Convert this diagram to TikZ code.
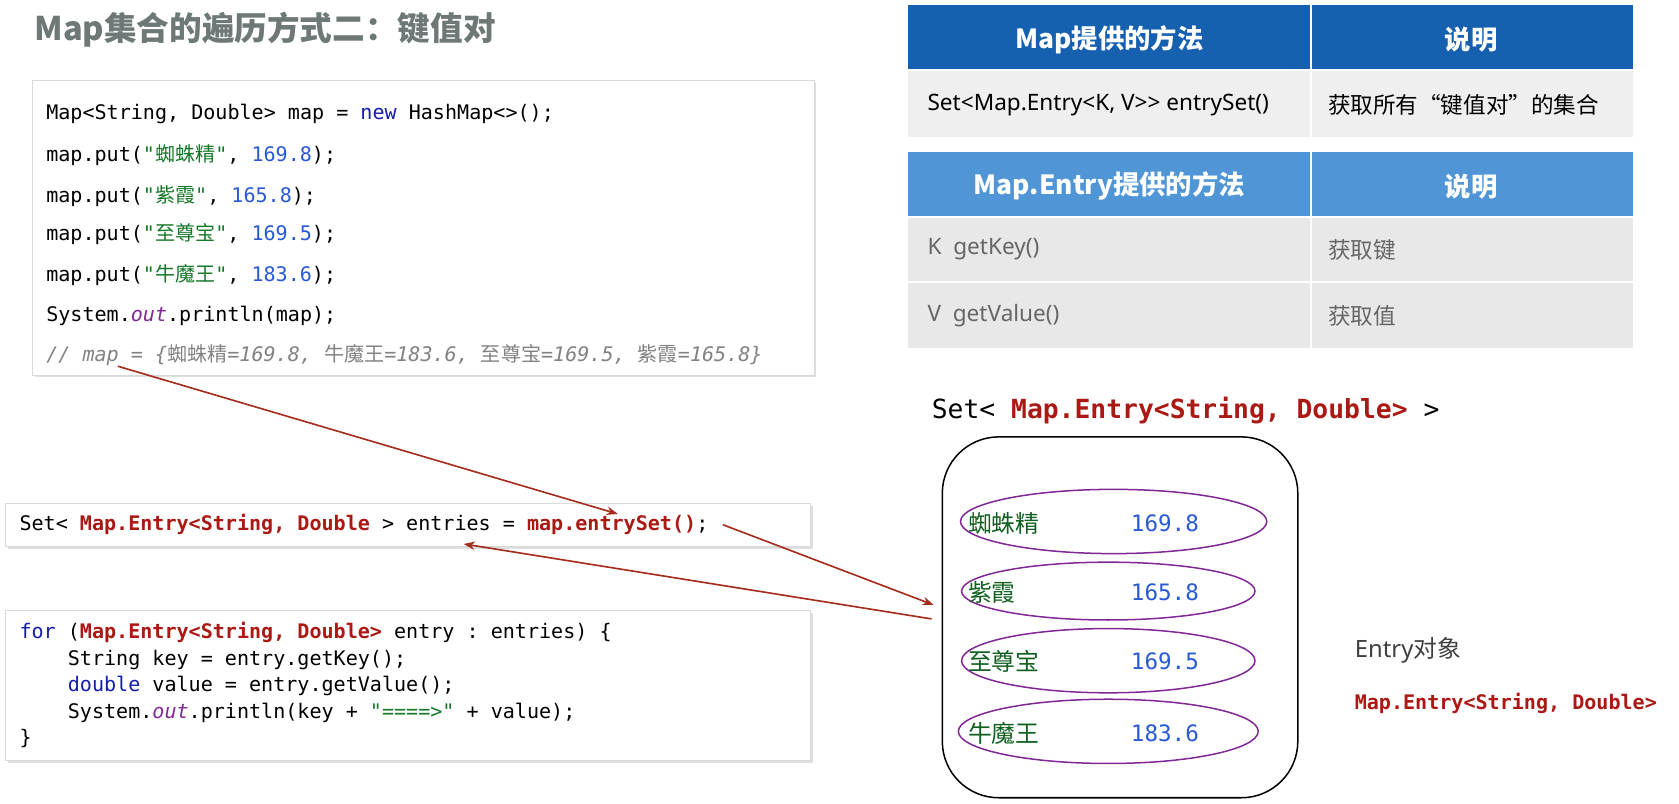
\documentclass[tikz,border=0pt]{standalone}
\usepackage{fontspec}
\setmonofont{DejaVu Sans Mono}
\setsansfont{Noto Sans}
\newfontfamily\zhf{Noto Sans CJK SC}
\newcommand{\zh}[1]{{\zhf #1}}
\usetikzlibrary{arrows.meta,shadows}
\definecolor{kw}{RGB}{20,30,170}
\definecolor{num}{RGB}{40,90,210}
\definecolor{str}{RGB}{20,120,40}
\definecolor{rb}{RGB}{170,25,20}
\definecolor{pur}{RGB}{130,40,150}
\definecolor{cmt}{RGB}{130,130,130}
\definecolor{hd1}{RGB}{22,96,176}
\definecolor{hd2}{RGB}{80,150,215}
\definecolor{rowg}{RGB}{232,232,232}
\definecolor{arr}{RGB}{165,45,30}
\definecolor{ttl}{RGB}{110,120,118}
\newcommand{\K}[1]{\textcolor{kw}{#1}}
\newcommand{\N}[1]{\textcolor{num}{#1}}
\newcommand{\St}[1]{\textcolor{str}{#1}}
\newcommand{\R}[1]{\textcolor{rb}{\bfseries #1}}
\newcommand{\Ou}{\textcolor{pur}{\itshape out}}
\begin{document}
\begin{tikzpicture}[x=0.03cm,y=-0.03cm,
  codebox/.style={draw=black!15,fill=white,drop shadow={opacity=0.25,shadow xshift=2pt,shadow yshift=-2pt}},
  code/.style={anchor=west,inner sep=0,font=\ttfamily\fontsize{16}{18}\selectfont},
  hdr/.style={anchor=center,text=white,font=\zhf\bfseries\fontsize{21}{23}\selectfont},
  cell/.style={anchor=west,inner sep=0,font=\sffamily\fontsize{18}{20}\selectfont},
  ell/.style={draw=pur,line width=1.2pt},
  ar/.style={draw=arr,line width=1.3pt,-{Stealth[length=9pt]}}]
\useasboundingbox (0,0) rectangle (1568,750);
\fill[white] (0,0) rectangle (1568,750);
\node[anchor=west,text=ttl,font=\zhf\bfseries\fontsize{26}{28}\selectfont] (title) at (28,28) {Map集合的遍历方式二：键值对};
% code box 1
\path[codebox] (30,75) rectangle (760,350);
\node[code] (c1) at (43,106) {Map<String, Double> map = \K{new} HashMap<>();};
\node[code] (c2) at (43,145) {map.put(\St{"\zh{蜘蛛精}"}, \N{169.8});};
\node[code] (c3) at (43,183) {map.put(\St{"\zh{紫霞}"}, \N{165.8});};
\node[code] (c4) at (43,219) {map.put(\St{"\zh{至尊宝}"}, \N{169.5});};
\node[code] (c5) at (43,257) {map.put(\St{"\zh{牛魔王}"}, \N{183.6});};
\node[code] (c6) at (43,295) {System.\Ou.println(map);};
\node[code,text=cmt] (c7) at (43,332) {\itshape // map = \{\zh{蜘蛛精}=169.8, \zh{牛魔王}=183.6, \zh{至尊宝}=169.5, \zh{紫霞}=165.8\}};
% table 1
\fill[hd1] (848,5) rectangle (1525,65);
\fill[rowg!70!white] (848,65) rectangle (1525,128);
\draw[white,line width=1.5pt] (1224,5) -- (1224,128) (848,65) -- (1525,65);
\node[hdr] (h1) at (1036,37) {Map提供的方法};
\node[hdr] (h2) at (1374,37) {说明};
\node[cell] (r1) at (866,98) {Set<Map.Entry<K, V{>}{>} entrySet()};
\node[cell] (r2) at (1240,98) {\zh{获取所有“键值对”的集合}};
% table 2
\fill[hd2] (848,142) rectangle (1525,203);
\fill[rowg] (848,203) rectangle (1525,325);
\draw[white,line width=1.5pt] (1224,142) -- (1224,325) (848,203) -- (1525,203) (848,263) -- (1525,263);
\node[hdr] (h3) at (1036,174) {Map.Entry提供的方法};
\node[hdr] (h4) at (1374,174) {说明};
\node[cell,text=black!60] (r3) at (866,233) {K\ \ getKey()};
\node[cell,text=black!60] (r4) at (1240,233) {\zh{获取键}};
\node[cell,text=black!60] (r5) at (866,295) {V\ \ getValue()};
\node[cell,text=black!60] (r6) at (1240,295) {\zh{获取值}};
% set label
\node[anchor=west,inner sep=0,font=\ttfamily\fontsize{21}{24}\selectfont] (setl) at (870,383) {Set< \R{Map.Entry<String, Double>} >};
\draw[line width=1.2pt,rounded corners=45] (880,408) rectangle (1212,745);
\draw[ell] (1040,487) ellipse [x radius=143,y radius=30];
\draw[ell] (1035,552) ellipse [x radius=137,y radius=27];
\draw[ell] (1035,617) ellipse [x radius=137,y radius=30];
\draw[ell] (1035,683) ellipse [x radius=140,y radius=30];
\tikzset{ek/.style={anchor=west,text=str!80!black,font=\zhf\fontsize{19}{22}\selectfont},
         ev/.style={anchor=west,text=num,font=\ttfamily\fontsize{18}{22}\selectfont}}
\node[ek] (k1) at (900,489) {蜘蛛精}; \node[ev] (v1) at (1052,489) {169.8};
\node[ek] (k2) at (900,553) {紫霞};   \node[ev] (v2) at (1052,553) {165.8};
\node[ek] (k3) at (900,618) {至尊宝}; \node[ev] (v3) at (1052,618) {169.5};
\node[ek] (k4) at (900,685) {牛魔王}; \node[ev] (v4) at (1052,685) {183.6};
\node[anchor=west,inner sep=0,text=black!75,font=\sffamily\fontsize{19}{22}\selectfont] (eo) at (1265,607) {Entry\zh{对象}};
\node[anchor=west,inner sep=0,text=rb,font=\ttfamily\bfseries\fontsize{16}{18}\selectfont] (me) at (1265,657) {Map.Entry<String, Double>};
% code box 2
\path[codebox] (5,470) rectangle (757,510);
\node[code] (d1) at (18,490) {Set< \R{Map.Entry<String, Double} > entries = \R{map.entrySet()};};
% code box 3
\path[codebox] (5,570) rectangle (757,710);
\node[code] (e1) at (18,591) {\K{for} (\R{Map.Entry<String, Double>} entry : entries) \{};
\node[code] (e2) at (18,616) {\ \ \ \ String key = entry.getKey();};
\node[code] (e3) at (18,641) {\ \ \ \ \K{double} value = entry.getValue();};
\node[code] (e4) at (18,666) {\ \ \ \ System.\Ou.println(key + \St{"====>"} + value);};
\node[code] (e5) at (18,690) {\}};
% arrows
\coordinate (a1s) at (110,342); \coordinate (a1e) at (577,480);
\coordinate (a2s) at (675,490); \coordinate (a2e) at (872,565);
\coordinate (a3s) at (870,578); \coordinate (a3e) at (433,508);
\draw[ar] (a1s) -- (a1e);
\draw[ar] (a2s) -- (a2e);
\draw[ar] (a3s) -- (a3e);
\end{tikzpicture}
\end{document}
